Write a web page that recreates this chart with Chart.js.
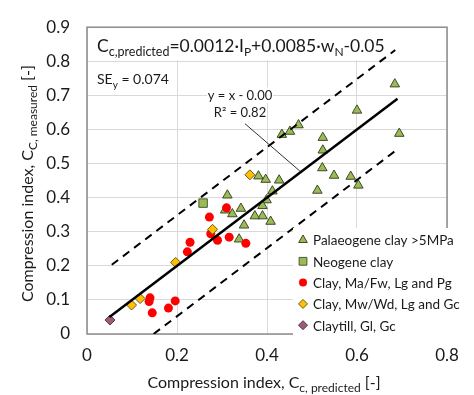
<!DOCTYPE html>
<html lang="en">
<head>
<meta charset="UTF-8">
<title>Compression index, predicted vs measured</title>
<script src="https://cdn.jsdelivr.net/npm/chart.js"></script>
<style>
  body { margin: 0; background: #fff; }
  #wrap { width: 474px; height: 395px; }
</style>
</head>
<body>
<div id="wrap"><canvas id="cc" width="474" height="395"></canvas></div>
<script>
// values: x = predicted Cc, y = measured Cc
const palaeoX = [0.684, 0.600, 0.694, 0.433, 0.451, 0.470, 0.524, 0.524, 0.523, 0.603, 0.586, 0.549, 0.512, 0.427,
                 0.397, 0.381, 0.412, 0.399, 0.390, 0.390, 0.373, 0.408, 0.312, 0.342, 0.307, 0.323, 0.349, 0.338];
const palaeoY = [0.733, 0.656, 0.588, 0.585, 0.594, 0.613, 0.576, 0.539, 0.487, 0.436, 0.462, 0.465, 0.421, 0.451,
                 0.453, 0.463, 0.419, 0.393, 0.376, 0.346, 0.346, 0.330, 0.407, 0.368, 0.363, 0.352, 0.319, 0.278];
const neogeneX = [0.258];
const neogeneY = [0.384];
const clayMaX = [0.310, 0.272, 0.275, 0.290, 0.316, 0.353, 0.229, 0.223, 0.140, 0.138, 0.145, 0.181, 0.196];
const clayMaY = [0.370, 0.343, 0.294, 0.275, 0.284, 0.266, 0.269, 0.241, 0.106, 0.095, 0.062, 0.076, 0.097];
const clayMwX = [0.362, 0.279, 0.197, 0.118, 0.099];
const clayMwY = [0.467, 0.307, 0.210, 0.104, 0.085];
const tillX = [0.051];
const tillY = [0.041];

// trend line y = x and the +/- 2 SE band
const fitX = [0.05, 0.69];
const fitY = [0.05, 0.69];
const upperX = [0.055, 0.685];
const upperY = [0.203, 0.833];
const lowerX = [0.148, 0.685];
const lowerY = [0.0, 0.537];

const xTicks = [0, 0.2, 0.4, 0.6, 0.8];
const xTickLabels = ['0', '0.2', '0.4', '0.6', '0.8'];
const yTicks = [0, 0.1, 0.2, 0.3, 0.4, 0.5, 0.6, 0.7, 0.8, 0.9];
const yTickLabels = ['0', '0.1', '0.2', '0.3', '0.4', '0.5', '0.6', '0.7', '0.8', '0.9'];

const seriesNames = ['Palaeogene clay >5MPa', 'Neogene clay', 'Clay, Ma/Fw, Lg and Pg', 'Clay, Mw/Wd, Lg and Gc', 'Claytill, Gl, Gc'];

const FONT = 'Lato, "Open Sans", sans-serif';
const TXT = '#1a1a1a';

function pts(xs, ys) {
  return xs.map((x, i) => ({ x: x, y: ys[i] }));
}

// draw a row of text pieces, some of them as subscripts
function drawRuns(ctx, runs, x, y, align) {
  let w = 0;
  runs.forEach(r => {
    ctx.font = r.size + 'px ' + FONT;
    r.w = ctx.measureText(r.text).width;
    w += r.w;
  });
  let cx = align === 'center' ? x - w / 2 : x;
  ctx.textAlign = 'left';
  ctx.textBaseline = 'alphabetic';
  ctx.fillStyle = TXT;
  runs.forEach(r => {
    ctx.font = r.size + 'px ' + FONT;
    ctx.fillText(r.text, cx, y + (r.sub ? Math.round(r.size * 0.35) : 0));
    cx += r.w;
  });
  return w;
}

const decor = {
  id: 'decor',
  beforeDatasetsDraw(chart) {
    const { ctx, chartArea: a, scales: { y } } = chart;
    ctx.save();
    // white band behind the formula hides the top grid cells
    ctx.fillStyle = '#fff';
    ctx.fillRect(a.left + 1, a.top + 1, a.right - a.left - 2, y.getPixelForValue(0.8) - a.top - 2);
    ctx.strokeStyle = '#8c8c8c';
    ctx.lineWidth = 1.5;
    ctx.strokeRect(a.left, a.top, a.right - a.left, a.bottom - a.top);

    drawRuns(ctx, [
      { text: 'C', size: 17.5 },
      { text: 'c,predicted', size: 12.5, sub: true },
      { text: '=0.0012\u00b7I', size: 17.5 },
      { text: 'P', size: 12, sub: true },
      { text: '+0.0085\u00b7w', size: 17.5 },
      { text: 'N', size: 12, sub: true },
      { text: '-0.05', size: 17.5 }
    ], a.left + 10, a.top + 25, 'left');

    drawRuns(ctx, [
      { text: 'SE', size: 14 },
      { text: 'y', size: 10, sub: true },
      { text: ' = 0.074', size: 14 }
    ], a.left + 10, a.top + 57, 'left');
    ctx.restore();
  },
  afterDatasetsDraw(chart) {
    const { ctx, scales: { x, y } } = chart;
    ctx.save();
    // leader from the trend label to the line
    ctx.strokeStyle = '#1a1a1a';
    ctx.lineWidth = 0.9;
    ctx.beginPath();
    ctx.moveTo(x.getPixelForValue(0.351), y.getPixelForValue(0.617));
    ctx.lineTo(x.getPixelForValue(0.473), y.getPixelForValue(0.478));
    ctx.stroke();

    const cx = x.getPixelForValue(0.34);
    const cy = y.getPixelForValue(0.70);
    ctx.fillStyle = '#fff';
    ctx.fillRect(cx - 33, cy - 8, 66, 16);
    drawRuns(ctx, [{ text: 'y = x - 0.00', size: 13 }], cx, cy + 5, 'center');
    drawRuns(ctx, [{ text: 'R\u00b2 = 0.82', size: 13 }], cx, y.getPixelForValue(0.65) + 5, 'center');
    ctx.restore();
  },
  afterDraw(chart) {
    const { ctx, chartArea: a } = chart;
    ctx.save();

    // legend box sits over the lower right corner of the plot
    const lx = 293, ly = 228;
    ctx.fillStyle = '#fff';
    ctx.fillRect(lx, ly, 474 - lx, 111);
    seriesNames.forEach((name, i) => {
      const ds = chart.data.datasets[i];
      const yy = ly + 12 + i * 21.3;
      ctx.fillStyle = ds.backgroundColor;
      ctx.strokeStyle = ds.borderColor;
      ctx.lineWidth = ds.borderWidth;
      Chart.helpers.drawPoint(ctx, {
        pointStyle: ds.pointStyle, radius: ds.pointRadius - 0.5, rotation: 0, borderWidth: ds.borderWidth
      }, lx + 10, yy);
      ctx.fillStyle = TXT;
      ctx.font = '13.5px ' + FONT;
      ctx.textAlign = 'left';
      ctx.textBaseline = 'middle';
      ctx.fillText(name, lx + 20, yy + 1);
    });

    // axis titles with subscripts
    drawRuns(ctx, [
      { text: 'Compression index, C', size: 16 },
      { text: 'c, predicted', size: 12, sub: true },
      { text: ' [-]', size: 16 }
    ], (a.left + a.right) / 2 - 3, 388, 'center');

    ctx.translate(33, (a.top + a.bottom) / 2 + 3);
    ctx.rotate(-Math.PI / 2);
    drawRuns(ctx, [
      { text: 'Compression index, C', size: 16 },
      { text: 'C, measured', size: 12, sub: true },
      { text: ' [-]', size: 16 }
    ], 0, 0, 'center');
    ctx.restore();
  }
};

const lineStyle = { showLine: true, pointRadius: 0, pointHoverRadius: 0, fill: false, borderColor: '#000', order: 0 };

new Chart(document.getElementById('cc'), {
  type: 'scatter',
  data: {
    datasets: [
      { label: seriesNames[0], data: pts(palaeoX, palaeoY), pointStyle: 'triangle', pointRadius: 5.5,
        backgroundColor: '#9bbb59', borderColor: '#3d4a22', borderWidth: 1, order: 5 },
      { label: seriesNames[1], data: pts(neogeneX, neogeneY), pointStyle: 'rect', pointRadius: 6,
        backgroundColor: '#9bbb59', borderColor: '#4a5a2a', borderWidth: 1, order: 4 },
      { label: seriesNames[2], data: pts(clayMaX, clayMaY), pointStyle: 'circle', pointRadius: 4.5,
        backgroundColor: '#ff0000', borderColor: '#ff0000', borderWidth: 0, order: 3 },
      { label: seriesNames[3], data: pts(clayMwX, clayMwY), pointStyle: 'rectRot', pointRadius: 5,
        backgroundColor: '#ffc000', borderColor: '#6b5a1e', borderWidth: 1, order: 2 },
      { label: seriesNames[4], data: pts(tillX, tillY), pointStyle: 'rectRot', pointRadius: 5,
        backgroundColor: '#9c5b78', borderColor: '#5a3345', borderWidth: 1, order: 1 },
      Object.assign({ label: 'fit', data: pts(fitX, fitY), borderWidth: 2.5 }, lineStyle),
      Object.assign({ label: 'upper', data: pts(upperX, upperY), borderWidth: 2, borderDash: [8, 6] }, lineStyle),
      Object.assign({ label: 'lower', data: pts(lowerX, lowerY), borderWidth: 2, borderDash: [8, 6] }, lineStyle)
    ]
  },
  options: {
    responsive: false,
    animation: false,
    layout: { padding: { left: 0, top: 10, right: 27, bottom: 0 } },
    plugins: { legend: { display: false }, tooltip: { enabled: false } },
    scales: {
      x: {
        type: 'linear', min: 0, max: 0.8,
        afterBuildTicks: s => { s.ticks = xTicks.map(v => ({ value: v })); },
        afterFit: s => { s.height = 61; },
        grid: { color: '#d9d9d9', lineWidth: 1, drawTicks: false },
        border: { display: false },
        ticks: { padding: 11, color: TXT, font: { family: FONT, size: 17 }, callback: (v, i) => xTickLabels[i] }
      },
      y: {
        type: 'linear', min: 0, max: 0.9,
        afterBuildTicks: s => { s.ticks = yTicks.map(v => ({ value: v })); },
        afterFit: s => { s.width = 87; },
        grid: { color: '#d9d9d9', lineWidth: 1, drawTicks: false },
        border: { display: false },
        ticks: { padding: 17, color: TXT, font: { family: FONT, size: 17 }, callback: (v, i) => yTickLabels[i] }
      }
    }
  },
  plugins: [decor]
});
</script>
</body>
</html>
